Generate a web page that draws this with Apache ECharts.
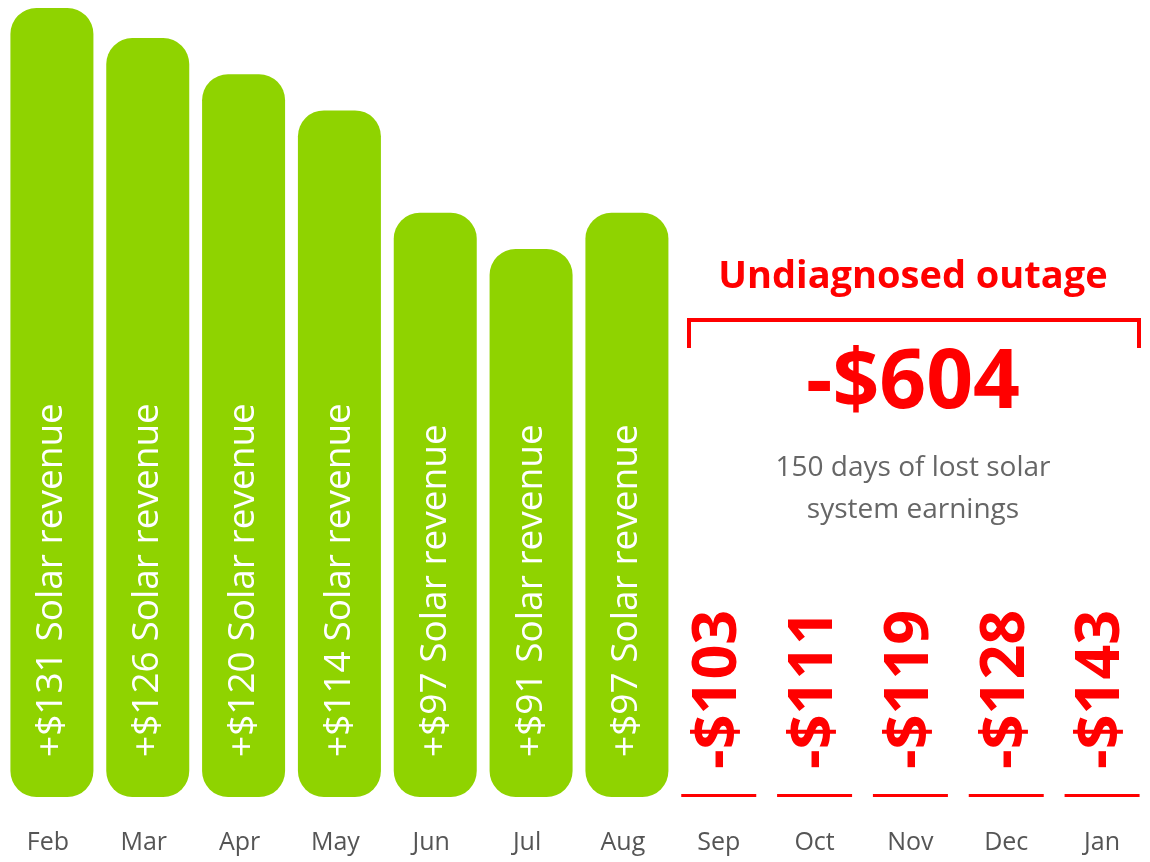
<!DOCTYPE html>
<html>
<head>
<meta charset="utf-8">
<script src="https://cdn.jsdelivr.net/npm/echarts@6/dist/echarts.min.js"></script>
<style>html,body{margin:0;padding:0;background:#fff}#chart{width:1150px;height:862px}</style>
</head>
<body>
<div id="chart"></div>
<script>
var months = ['Feb', 'Mar', 'Apr', 'May', 'Jun', 'Jul', 'Aug', 'Sep', 'Oct', 'Nov', 'Dec', 'Jan'];
var revenue = [131, 126, 120, 114, 97, 91, 97];
var losses = [103, 111, 119, 128, 143];
var totalLoss = 604;

var myChart = echarts.init(document.getElementById('chart'));

var greenData = months.map(function (m, i) { return i < revenue.length ? revenue[i] : '-'; });
var redData = months.map(function (m, i) { return i < revenue.length ? '-' : 0.5; });

var option = {
    animation: false,
    grid: { left: -2, right: 0, top: 8, bottom: 65 },
    xAxis: {
        type: 'category',
        data: months,
        axisLine: { show: false },
        axisTick: { show: false },
        axisLabel: { color: '#555', fontSize: 25, fontFamily: 'Open Sans', margin: 33 }
    },
    yAxis: { type: 'value', min: 0, max: 131, show: false },
    series: [{
        type: 'bar',
        data: greenData,
        barWidth: 83,
        itemStyle: { color: '#8fd300', borderRadius: 26 },
        label: {
            show: true,
            position: 'insideBottom',
            rotate: 90,
            align: 'left',
            verticalAlign: 'middle',
            distance: 40,
            color: '#fff',
            fontSize: 37,
            fontFamily: 'Open Sans',
            formatter: function (p) { return '+$' + p.value + ' Solar revenue'; }
        }
    }, {
        type: 'bar',
        data: redData,
        barWidth: 75,
        barGap: '-100%',
        itemStyle: { color: '#f00' },
        label: {
            show: true,
            position: 'top',
            rotate: 90,
            align: 'left',
            verticalAlign: 'middle',
            distance: 25,
            color: '#f00',
            fontSize: 61,
            fontWeight: 'bold',
            fontFamily: 'Open Sans',
            formatter: function (p) { return '-$' + losses[p.dataIndex - revenue.length]; }
        }
    }],
    graphic: [{
        type: 'text', x: 913, y: 277,
        style: { text: 'Undiagnosed outage', fill: '#f00', font: 'bold 38px "Open Sans"', align: 'center', verticalAlign: 'middle' }
    }, {
        type: 'polyline',
        shape: { points: [[689, 348], [689, 320], [1139, 320], [1139, 348]] },
        style: { stroke: '#f00', lineWidth: 4, fill: null }
    }, {
        type: 'text', x: 913, y: 385,
        style: { text: '-$' + totalLoss, fill: '#f00', font: 'bold 82px "Open Sans"', align: 'center', verticalAlign: 'middle' }
    }, {
        type: 'text', x: 913, y: 489,
        style: { text: '150 days of lost solar\nsystem earnings', fill: '#666', font: '28px "Open Sans"', lineHeight: 42, align: 'center', verticalAlign: 'middle' }
    }]
};
myChart.setOption(option);
</script>
</body>
</html>
